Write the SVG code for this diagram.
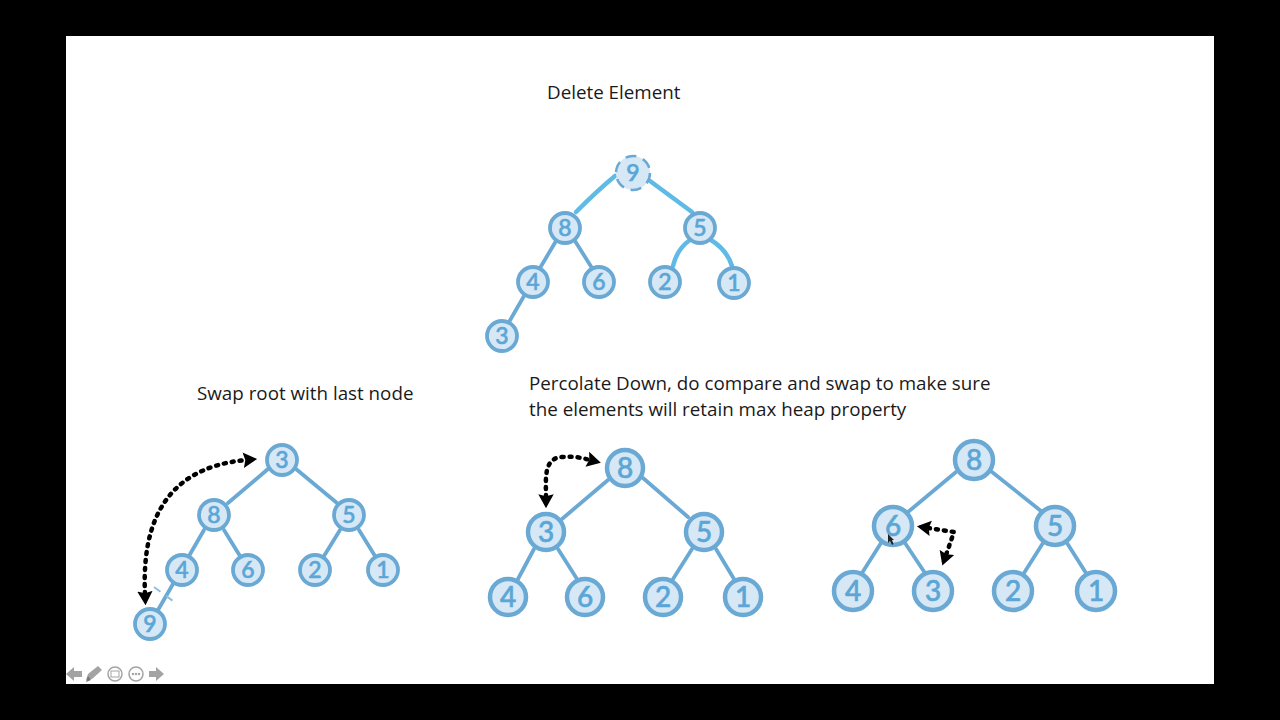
<svg xmlns="http://www.w3.org/2000/svg" width="1280" height="720" viewBox="0 0 1280 720">
<style>
.lbl{font-family:"Open Sans","Liberation Sans",sans-serif;font-size:18.8px;fill:#1a1a1a}
.n circle{fill:#d6e8f6;stroke:#6aa9d4;stroke-width:4}
.n text{font-family:"Lato","Open Sans",sans-serif;fill:#5ba6d6;stroke:#5ba6d6;stroke-width:0.6;text-anchor:middle;font-weight:500}
.s text{font-size:23px}.s circle{stroke-width:3.8}
.m text{font-size:28px}.m circle{stroke-width:4.500}
.e line,.e path{stroke:#6aa9d4;stroke-width:3.8;fill:none;stroke-linecap:round}
.b line,.b path{stroke:#5fbbe6;stroke-width:4.500;fill:none;stroke-linecap:round}
.d{stroke:#000;stroke-width:4.500;stroke-linecap:round;stroke-dasharray:2 6;fill:none;marker-start:url(#h);marker-end:url(#h)}
</style>
<defs>
<marker id="h" viewBox="0 0 10 12" refX="2" refY="6" markerWidth="14" markerHeight="17" markerUnits="userSpaceOnUse" orient="auto-start-reverse">
<path d="M0 0.500L10 6L0 11.500L1.500 6Z" fill="#000"/>
</marker>
</defs>
<rect width="1280" height="720" fill="#000"/>
<rect x="66" y="36" width="1148" height="648" fill="#fff"/>
<text class="lbl" x="547" y="99">Delete Element</text>
<text class="lbl" x="197" y="400">Swap root with last node</text>
<text class="lbl" x="529" y="390">Percolate Down, do compare and swap to make sure</text>
<text class="lbl" x="529" y="416">the elements will retain max heap property</text>

<g id="connectors">
<g class="b">
<path d="M615 176Q598 190 576 212"/>
<path d="M650 181L692 212"/>
<path d="M690 240Q677 249 673 266"/>
<path d="M711 240Q727 250 732 266"/>
</g>
<g class="e">
<line x1="556" y1="241" x2="540" y2="268"/>
<line x1="575" y1="241" x2="592" y2="268"/>
<line x1="524" y1="296" x2="509" y2="322"/>
<line x1="268" y1="469" x2="228" y2="503"/>
<line x1="296" y1="469" x2="337" y2="503"/>
<line x1="204" y1="530" x2="189" y2="556"/>
<line x1="224" y1="530" x2="240" y2="556"/>
<line x1="340" y1="530" x2="324" y2="556"/>
<line x1="359" y1="530" x2="375" y2="556"/>
<line x1="173" y1="584" x2="158" y2="610"/>
<line x1="608" y1="480" x2="562" y2="519"/>
<line x1="643" y1="478" x2="688" y2="517"/>
<line x1="534" y1="549" x2="518" y2="579"/>
<line x1="558" y1="549" x2="577" y2="579"/>
<line x1="692" y1="549" x2="673" y2="579"/>
<line x1="716" y1="549" x2="734" y2="579"/>
<line x1="956" y1="472" x2="908" y2="512"/>
<line x1="992" y1="472" x2="1041" y2="511"/>
<line x1="881" y1="543" x2="862" y2="573"/>
<line x1="905" y1="543" x2="925" y2="573"/>
<line x1="1043" y1="543" x2="1024" y2="573"/>
<line x1="1067" y1="543" x2="1086" y2="573"/>
</g>
<line x1="154" y1="587" x2="177" y2="604" stroke="#8fbfe0" stroke-width="2" stroke-dasharray="8 7"/>
<path class="d" d="M145 594C142 530 160 468 246 460"/>
<path class="d" d="M546 497C546 480 543 458 562 457C575 456 582 458 590 460"/>
<path class="d" d="M928 528L954 532L946 555"/>
</g>

<g id="n-top-9" class="n s"><circle cx="633" cy="173" r="17" style="fill:#d6e8f6;stroke:#6aa9d4;stroke-width:2.500;stroke-dasharray:11 7"/><text x="633" y="181">9</text></g>
<g id="n-top-8" class="n s"><circle cx="565" cy="228" r="15"/><text x="565" y="236">8</text></g>
<g id="n-top-5" class="n s"><circle cx="700" cy="228" r="15"/><text x="700" y="236">5</text></g>
<g id="n-top-4" class="n s"><circle cx="533" cy="282" r="15"/><text x="533" y="290">4</text></g>
<g id="n-top-6" class="n s"><circle cx="599" cy="282" r="15"/><text x="599" y="290">6</text></g>
<g id="n-top-2" class="n s"><circle cx="665" cy="282" r="15"/><text x="665" y="290">2</text></g>
<g id="n-top-1" class="n s"><circle cx="734" cy="283" r="15"/><text x="734" y="291">1</text></g>
<g id="n-top-3" class="n s"><circle cx="502" cy="336" r="15"/><text x="502" y="344">3</text></g>

<g id="n-a-3" class="n s"><circle cx="282" cy="460" r="15"/><text x="282" y="468">3</text></g>
<g id="n-a-8" class="n s"><circle cx="214" cy="515" r="15"/><text x="214" y="523">8</text></g>
<g id="n-a-5" class="n s"><circle cx="349" cy="515" r="15"/><text x="349" y="523">5</text></g>
<g id="n-a-4" class="n s"><circle cx="182" cy="570" r="15"/><text x="182" y="578">4</text></g>
<g id="n-a-6" class="n s"><circle cx="248" cy="570" r="15"/><text x="248" y="578">6</text></g>
<g id="n-a-2" class="n s"><circle cx="315" cy="570" r="15"/><text x="315" y="578">2</text></g>
<g id="n-a-1" class="n s"><circle cx="383" cy="570" r="15"/><text x="383" y="578">1</text></g>
<g id="n-a-9" class="n s"><circle cx="150" cy="624" r="15"/><text x="150" y="632">9</text></g>

<g id="n-b-8" class="n m"><circle cx="625" cy="468" r="18"/><text x="625" y="478">8</text></g>
<g id="n-b-3" class="n m"><circle cx="546" cy="532" r="18"/><text x="546" y="542">3</text></g>
<g id="n-b-5" class="n m"><circle cx="704" cy="532" r="18"/><text x="704" y="542">5</text></g>
<g id="n-b-4" class="n m"><circle cx="508" cy="597" r="18"/><text x="508" y="607">4</text></g>
<g id="n-b-6" class="n m"><circle cx="585" cy="597" r="18"/><text x="585" y="607">6</text></g>
<g id="n-b-2" class="n m"><circle cx="663" cy="597" r="18"/><text x="663" y="607">2</text></g>
<g id="n-b-1" class="n m"><circle cx="743" cy="597" r="18"/><text x="743" y="607">1</text></g>

<g id="n-c-8" class="n m"><circle cx="974" cy="460" r="19"/><text x="974" y="470">8</text></g>
<g id="n-c-6" class="n m"><circle cx="893" cy="526" r="19"/><text x="893" y="536">6</text></g>
<g id="n-c-5" class="n m"><circle cx="1055" cy="526" r="19"/><text x="1055" y="536">5</text></g>
<g id="n-c-4" class="n m"><circle cx="853" cy="591" r="19"/><text x="853" y="601">4</text></g>
<g id="n-c-3" class="n m"><circle cx="933" cy="591" r="19"/><text x="933" y="601">3</text></g>
<g id="n-c-2" class="n m"><circle cx="1013" cy="591" r="19"/><text x="1013" y="601">2</text></g>
<g id="n-c-1" class="n m"><circle cx="1096" cy="591" r="19"/><text x="1096" y="601">1</text></g>

<path d="M888 534L888 543L890 541L892 545L893.500 544L892 540L894 540Z" fill="#222"/>

<g id="toolbar" fill="#a3a3a3">
<path d="M66 674L74 667V671H82V677H74V681Z"/>
<path d="M86 680L88 674L98 666L102 670L92 679Z"/>
<path d="M86 682L88 676L91 680Z" fill="#777"/>
<circle cx="115" cy="674" r="7" fill="none" stroke="#a3a3a3" stroke-width="1.500"/>
<rect x="111" y="671" width="8" height="6" fill="none" stroke="#a3a3a3"/>
<circle cx="136" cy="674" r="7" fill="none" stroke="#a3a3a3" stroke-width="1.500"/>
<circle cx="133" cy="674" r="1.200"/><circle cx="136" cy="674" r="1.200"/><circle cx="139" cy="674" r="1.200"/>
<path d="M164 674L156 667V671H149V677H156V681Z"/>
</g>
</svg>
